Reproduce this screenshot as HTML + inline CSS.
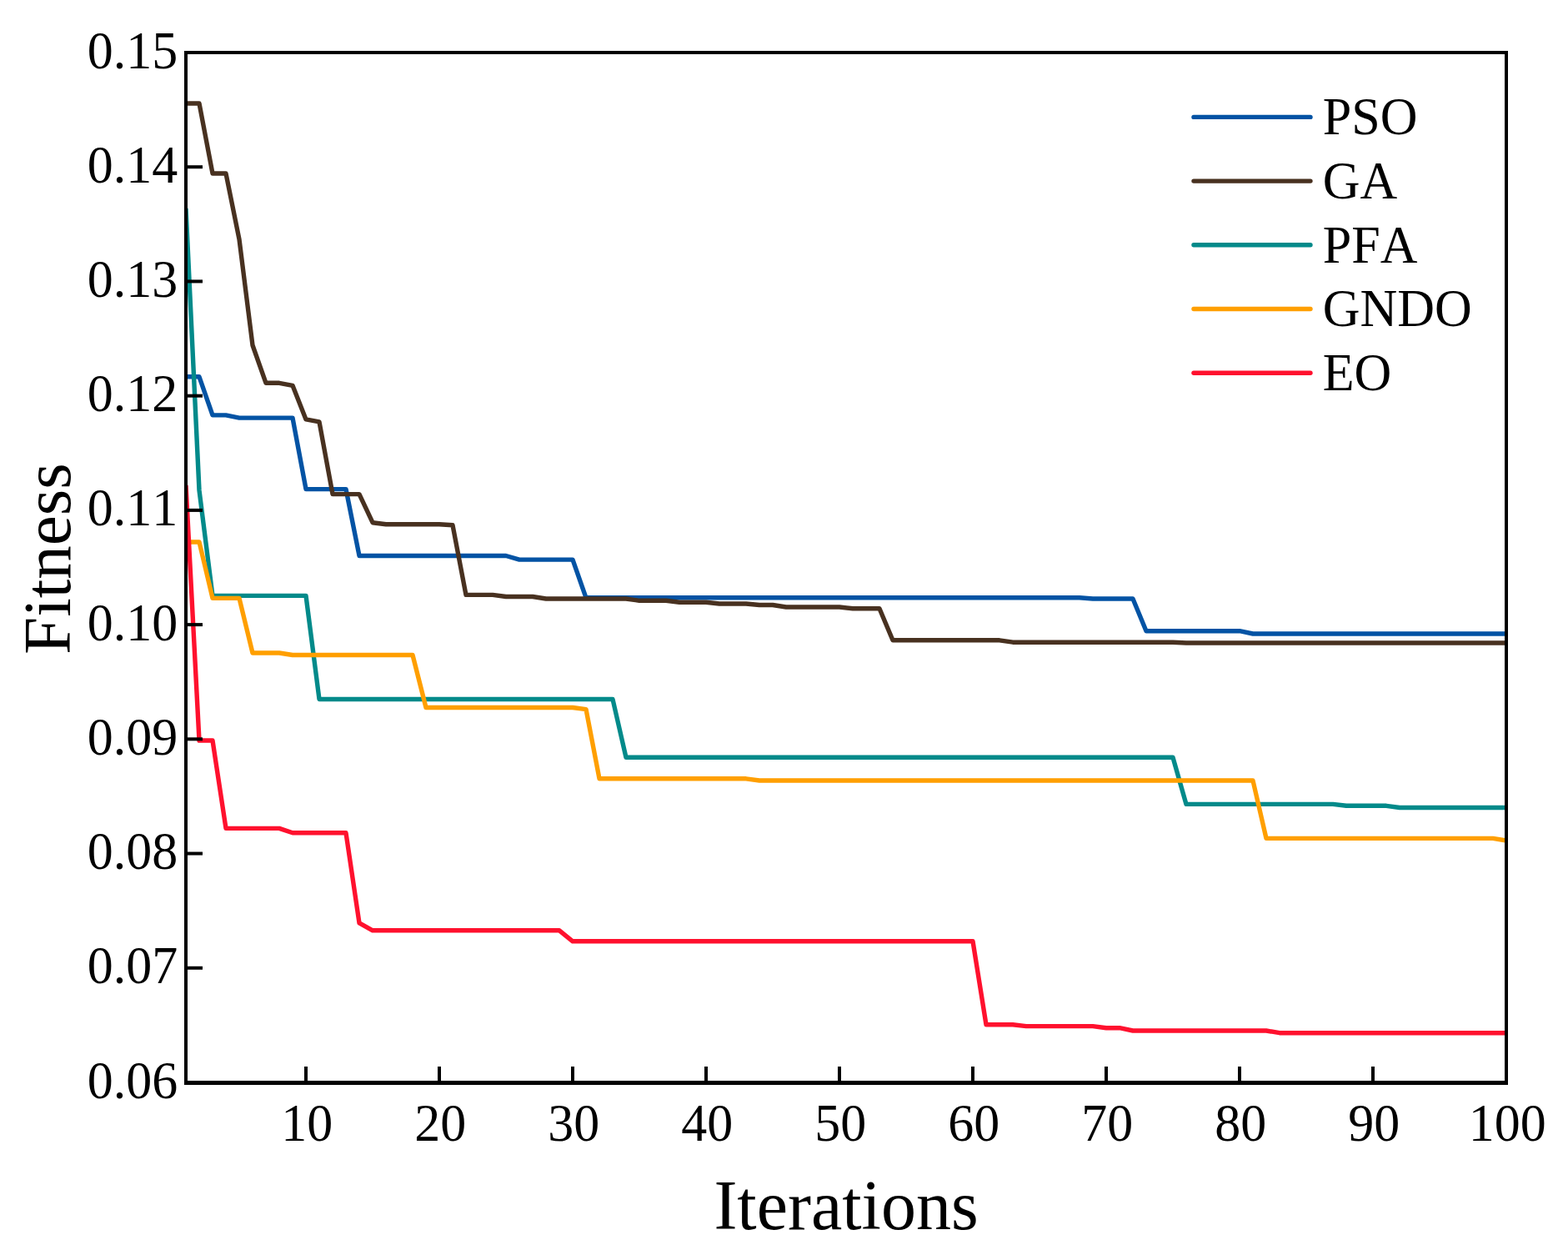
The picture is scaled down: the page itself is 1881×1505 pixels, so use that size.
<!DOCTYPE html>
<html><head><meta charset="utf-8"><style>
html,body{margin:0;padding:0;background:#fff;}
svg{display:block;}
text{font-family:"Liberation Serif","Times New Roman",serif;fill:#000;font-kerning:none;font-variant-ligatures:none;}
</style></head><body>
<svg width="1881" height="1505" viewBox="0 0 1881 1505">
<rect width="1881" height="1505" fill="#fff"/>
<defs><clipPath id="c"><rect x="223.0" y="63.0" width="1584.0" height="1235.0"/></clipPath></defs>
<g clip-path="url(#c)"><polyline points="223.0,451.8 239.0,451.8 255.0,497.9 271.0,497.9 287.0,501.1 303.0,501.1 319.0,501.1 335.0,501.1 351.0,501.1 367.0,586.6 383.0,586.6 399.0,586.6 415.0,586.6 431.0,666.5 447.0,666.5 463.0,666.5 479.0,666.5 495.0,666.5 511.0,666.5 527.0,666.5 543.0,666.5 559.0,666.5 575.0,666.5 591.0,666.5 607.0,666.5 623.0,671.1 639.0,671.1 655.0,671.1 671.0,671.1 687.0,671.1 703.0,716.8 719.0,716.8 735.0,716.8 751.0,716.8 767.0,716.8 783.0,716.8 799.0,716.8 815.0,716.8 831.0,716.8 847.0,716.8 863.0,716.8 879.0,716.8 895.0,716.8 911.0,716.8 927.0,716.8 943.0,716.8 959.0,716.8 975.0,716.8 991.0,716.8 1007.0,716.8 1023.0,716.8 1039.0,716.8 1055.0,716.8 1071.0,716.8 1087.0,716.8 1103.0,716.8 1119.0,716.8 1135.0,716.8 1151.0,716.8 1167.0,716.8 1183.0,716.8 1199.0,716.8 1215.0,716.8 1231.0,716.8 1247.0,716.8 1263.0,716.8 1279.0,716.8 1295.0,716.8 1311.0,718.0 1327.0,718.0 1343.0,718.0 1359.0,718.0 1375.0,756.7 1391.0,756.7 1407.0,756.7 1423.0,756.7 1439.0,756.7 1455.0,756.7 1471.0,756.7 1487.0,756.7 1503.0,760.0 1519.0,760.0 1535.0,760.0 1551.0,760.0 1567.0,760.0 1583.0,760.0 1599.0,760.0 1615.0,760.0 1631.0,760.0 1647.0,760.0 1663.0,760.0 1679.0,760.0 1695.0,760.0 1711.0,760.0 1727.0,760.0 1743.0,760.0 1759.0,760.0 1775.0,760.0 1791.0,760.0 1807.0,760.0" fill="none" stroke="#0353a4" stroke-width="5.4" stroke-linejoin="round"/><polyline points="223.0,124.0 239.0,124.0 255.0,208.0 271.0,208.0 287.0,287.0 303.0,414.0 319.0,459.3 335.0,459.3 351.0,462.3 367.0,502.9 383.0,505.9 399.0,592.6 415.0,592.6 431.0,592.6 447.0,626.7 463.0,628.7 479.0,628.7 495.0,628.7 511.0,628.7 527.0,628.7 543.0,629.7 559.0,713.4 575.0,713.4 591.0,713.4 607.0,715.5 623.0,715.5 639.0,715.5 655.0,718.0 671.0,718.0 687.0,718.0 703.0,718.0 719.0,718.0 735.0,718.0 751.0,718.0 767.0,720.3 783.0,720.3 799.0,720.3 815.0,722.3 831.0,722.3 847.0,722.3 863.0,724.0 879.0,724.0 895.0,724.0 911.0,725.5 927.0,725.5 943.0,728.0 959.0,728.0 975.0,728.0 991.0,728.0 1007.0,728.0 1023.0,729.8 1039.0,729.8 1055.0,729.8 1071.0,767.8 1087.0,767.8 1103.0,767.8 1119.0,767.8 1135.0,767.8 1151.0,767.8 1167.0,767.8 1183.0,767.8 1199.0,767.8 1215.0,770.2 1231.0,770.2 1247.0,770.2 1263.0,770.2 1279.0,770.2 1295.0,770.2 1311.0,770.2 1327.0,770.2 1343.0,770.2 1359.0,770.2 1375.0,770.2 1391.0,770.2 1407.0,770.2 1423.0,771.0 1439.0,771.0 1455.0,771.0 1471.0,771.0 1487.0,771.0 1503.0,771.0 1519.0,771.0 1535.0,771.0 1551.0,771.0 1567.0,771.0 1583.0,771.0 1599.0,771.0 1615.0,771.0 1631.0,771.0 1647.0,771.0 1663.0,771.0 1679.0,771.0 1695.0,771.0 1711.0,771.0 1727.0,771.0 1743.0,771.0 1759.0,771.0 1775.0,771.0 1791.0,771.0 1807.0,771.0" fill="none" stroke="#483120" stroke-width="5.4" stroke-linejoin="round"/><polyline points="223.0,250.0 239.0,588.0 255.0,714.4 271.0,714.4 287.0,714.4 303.0,714.4 319.0,714.4 335.0,714.4 351.0,714.4 367.0,714.4 383.0,838.5 399.0,838.5 415.0,838.5 431.0,838.5 447.0,838.5 463.0,838.5 479.0,838.5 495.0,838.5 511.0,838.5 527.0,838.5 543.0,838.5 559.0,838.5 575.0,838.5 591.0,838.5 607.0,838.5 623.0,838.5 639.0,838.5 655.0,838.5 671.0,838.5 687.0,838.5 703.0,838.5 719.0,838.5 735.0,838.5 751.0,908.3 767.0,908.3 783.0,908.3 799.0,908.3 815.0,908.3 831.0,908.3 847.0,908.3 863.0,908.3 879.0,908.3 895.0,908.3 911.0,908.3 927.0,908.3 943.0,908.3 959.0,908.3 975.0,908.3 991.0,908.3 1007.0,908.3 1023.0,908.3 1039.0,908.3 1055.0,908.3 1071.0,908.3 1087.0,908.3 1103.0,908.3 1119.0,908.3 1135.0,908.3 1151.0,908.3 1167.0,908.3 1183.0,908.3 1199.0,908.3 1215.0,908.3 1231.0,908.3 1247.0,908.3 1263.0,908.3 1279.0,908.3 1295.0,908.3 1311.0,908.3 1327.0,908.3 1343.0,908.3 1359.0,908.3 1375.0,908.3 1391.0,908.3 1407.0,908.3 1423.0,964.4 1439.0,964.4 1455.0,964.4 1471.0,964.4 1487.0,964.4 1503.0,964.4 1519.0,964.4 1535.0,964.4 1551.0,964.4 1567.0,964.4 1583.0,964.4 1599.0,964.4 1615.0,966.3 1631.0,966.3 1647.0,966.3 1663.0,966.3 1679.0,968.5 1695.0,968.5 1711.0,968.5 1727.0,968.5 1743.0,968.5 1759.0,968.5 1775.0,968.5 1791.0,968.5 1807.0,968.5" fill="none" stroke="#028a8a" stroke-width="5.4" stroke-linejoin="round"/><polyline points="223.0,650.0 239.0,650.0 255.0,717.4 271.0,717.4 287.0,717.4 303.0,783.0 319.0,783.0 335.0,783.0 351.0,785.5 367.0,785.5 383.0,785.5 399.0,785.5 415.0,785.5 431.0,785.5 447.0,785.5 463.0,785.5 479.0,785.5 495.0,785.5 511.0,848.5 527.0,848.5 543.0,848.5 559.0,848.5 575.0,848.5 591.0,848.5 607.0,848.5 623.0,848.5 639.0,848.5 655.0,848.5 671.0,848.5 687.0,848.5 703.0,850.6 719.0,933.8 735.0,933.8 751.0,933.8 767.0,933.8 783.0,933.8 799.0,933.8 815.0,933.8 831.0,933.8 847.0,933.8 863.0,933.8 879.0,933.8 895.0,933.8 911.0,936.0 927.0,936.0 943.0,936.0 959.0,936.0 975.0,936.0 991.0,936.0 1007.0,936.0 1023.0,936.0 1039.0,936.0 1055.0,936.0 1071.0,936.0 1087.0,936.0 1103.0,936.0 1119.0,936.0 1135.0,936.0 1151.0,936.0 1167.0,936.0 1183.0,936.0 1199.0,936.0 1215.0,936.0 1231.0,936.0 1247.0,936.0 1263.0,936.0 1279.0,936.0 1295.0,936.0 1311.0,936.0 1327.0,936.0 1343.0,936.0 1359.0,936.0 1375.0,936.0 1391.0,936.0 1407.0,936.0 1423.0,936.0 1439.0,936.0 1455.0,936.0 1471.0,936.0 1487.0,936.0 1503.0,936.0 1519.0,1005.4 1535.0,1005.4 1551.0,1005.4 1567.0,1005.4 1583.0,1005.4 1599.0,1005.4 1615.0,1005.4 1631.0,1005.4 1647.0,1005.4 1663.0,1005.4 1679.0,1005.4 1695.0,1005.4 1711.0,1005.4 1727.0,1005.4 1743.0,1005.4 1759.0,1005.4 1775.0,1005.4 1791.0,1005.4 1807.0,1008.0" fill="none" stroke="#ff9f00" stroke-width="5.4" stroke-linejoin="round"/><polyline points="223.0,582.0 239.0,888.0 255.0,888.0 271.0,993.4 287.0,993.4 303.0,993.4 319.0,993.4 335.0,993.4 351.0,998.8 367.0,998.8 383.0,998.8 399.0,998.8 415.0,998.8 431.0,1106.9 447.0,1115.8 463.0,1115.8 479.0,1115.8 495.0,1115.8 511.0,1115.8 527.0,1115.8 543.0,1115.8 559.0,1115.8 575.0,1115.8 591.0,1115.8 607.0,1115.8 623.0,1115.8 639.0,1115.8 655.0,1115.8 671.0,1115.8 687.0,1128.8 703.0,1128.8 719.0,1128.8 735.0,1128.8 751.0,1128.8 767.0,1128.8 783.0,1128.8 799.0,1128.8 815.0,1128.8 831.0,1128.8 847.0,1128.8 863.0,1128.8 879.0,1128.8 895.0,1128.8 911.0,1128.8 927.0,1128.8 943.0,1128.8 959.0,1128.8 975.0,1128.8 991.0,1128.8 1007.0,1128.8 1023.0,1128.8 1039.0,1128.8 1055.0,1128.8 1071.0,1128.8 1087.0,1128.8 1103.0,1128.8 1119.0,1128.8 1135.0,1128.8 1151.0,1128.8 1167.0,1128.8 1183.0,1228.8 1199.0,1228.8 1215.0,1228.8 1231.0,1230.6 1247.0,1230.6 1263.0,1230.6 1279.0,1230.6 1295.0,1230.6 1311.0,1230.6 1327.0,1232.7 1343.0,1232.7 1359.0,1236.0 1375.0,1236.0 1391.0,1236.0 1407.0,1236.0 1423.0,1236.0 1439.0,1236.0 1455.0,1236.0 1471.0,1236.0 1487.0,1236.0 1503.0,1236.0 1519.0,1236.0 1535.0,1238.7 1551.0,1238.7 1567.0,1238.7 1583.0,1238.7 1599.0,1238.7 1615.0,1238.7 1631.0,1238.7 1647.0,1238.7 1663.0,1238.7 1679.0,1238.7 1695.0,1238.7 1711.0,1238.7 1727.0,1238.7 1743.0,1238.7 1759.0,1238.7 1775.0,1238.7 1791.0,1238.7 1807.0,1238.7" fill="none" stroke="#ff112e" stroke-width="5.4" stroke-linejoin="round"/></g>
<g fill="#000"><rect x="221" y="61" width="4" height="1240"/><rect x="1805" y="61" width="4" height="1240"/><rect x="221" y="61" width="1588" height="4"/><rect x="221" y="1296" width="1588" height="5"/><rect x="225" y="198.22" width="18" height="4"/><rect x="225" y="335.44" width="18" height="4"/><rect x="225" y="472.67" width="18" height="4"/><rect x="225" y="609.89" width="18" height="4"/><rect x="225" y="747.11" width="18" height="4"/><rect x="225" y="884.33" width="18" height="4"/><rect x="225" y="1021.56" width="18" height="4"/><rect x="225" y="1158.78" width="18" height="4"/><rect x="365.00" y="1279" width="4" height="18"/><rect x="525.00" y="1279" width="4" height="18"/><rect x="685.00" y="1279" width="4" height="18"/><rect x="845.00" y="1279" width="4" height="18"/><rect x="1005.00" y="1279" width="4" height="18"/><rect x="1165.00" y="1279" width="4" height="18"/><rect x="1325.00" y="1279" width="4" height="18"/><rect x="1485.00" y="1279" width="4" height="18"/><rect x="1645.00" y="1279" width="4" height="18"/></g>
<g font-size="62"><text transform="translate(213.3,81.5) scale(1,1.035)" text-anchor="end">0.15</text><text transform="translate(213.3,218.7) scale(1,1.035)" text-anchor="end">0.14</text><text transform="translate(213.3,355.9) scale(1,1.035)" text-anchor="end">0.13</text><text transform="translate(213.3,493.2) scale(1,1.035)" text-anchor="end">0.12</text><text transform="translate(213.3,630.4) scale(1,1.035)" text-anchor="end">0.11</text><text transform="translate(213.3,767.6) scale(1,1.035)" text-anchor="end">0.10</text><text transform="translate(213.3,904.8) scale(1,1.035)" text-anchor="end">0.09</text><text transform="translate(213.3,1042.1) scale(1,1.035)" text-anchor="end">0.08</text><text transform="translate(213.3,1179.3) scale(1,1.035)" text-anchor="end">0.07</text><text transform="translate(213.3,1316.5) scale(1,1.035)" text-anchor="end">0.06</text><text transform="translate(368.2,1368) scale(1,1.035)" text-anchor="middle">10</text><text transform="translate(528.2,1368) scale(1,1.035)" text-anchor="middle">20</text><text transform="translate(688.2,1368) scale(1,1.035)" text-anchor="middle">30</text><text transform="translate(848.2,1368) scale(1,1.035)" text-anchor="middle">40</text><text transform="translate(1008.2,1368) scale(1,1.035)" text-anchor="middle">50</text><text transform="translate(1168.2,1368) scale(1,1.035)" text-anchor="middle">60</text><text transform="translate(1328.2,1368) scale(1,1.035)" text-anchor="middle">70</text><text transform="translate(1488.2,1368) scale(1,1.035)" text-anchor="middle">80</text><text transform="translate(1648.2,1368) scale(1,1.035)" text-anchor="middle">90</text><text transform="translate(1808.2,1368) scale(1,1.035)" text-anchor="middle">100</text></g>
<g font-size="62"><line x1="1432" y1="140.4" x2="1572" y2="140.4" stroke="#0353a4" stroke-width="5.4" stroke-linecap="round"/><text transform="translate(1586.7,161.2) scale(1,1.035)">PSO</text><line x1="1432" y1="217.10000000000002" x2="1572" y2="217.10000000000002" stroke="#483120" stroke-width="5.4" stroke-linecap="round"/><text transform="translate(1586.7,237.9) scale(1,1.035)">GA</text><line x1="1432" y1="293.8" x2="1572" y2="293.8" stroke="#028a8a" stroke-width="5.4" stroke-linecap="round"/><text transform="translate(1586.7,314.7) scale(1,1.035)">PFA</text><line x1="1432" y1="370.5" x2="1572" y2="370.5" stroke="#ff9f00" stroke-width="5.4" stroke-linecap="round"/><text transform="translate(1586.7,391.4) scale(1,1.035)">GNDO</text><line x1="1432" y1="447.20000000000005" x2="1572" y2="447.20000000000005" stroke="#ff112e" stroke-width="5.4" stroke-linecap="round"/><text transform="translate(1586.7,468.2) scale(1,1.035)">EO</text></g>
<text x="1015" y="1474" font-size="84" text-anchor="middle">Iterations</text>
<text transform="translate(84,670) rotate(-90)" font-size="81" text-anchor="middle">Fitness</text>
</svg>
</body></html>
